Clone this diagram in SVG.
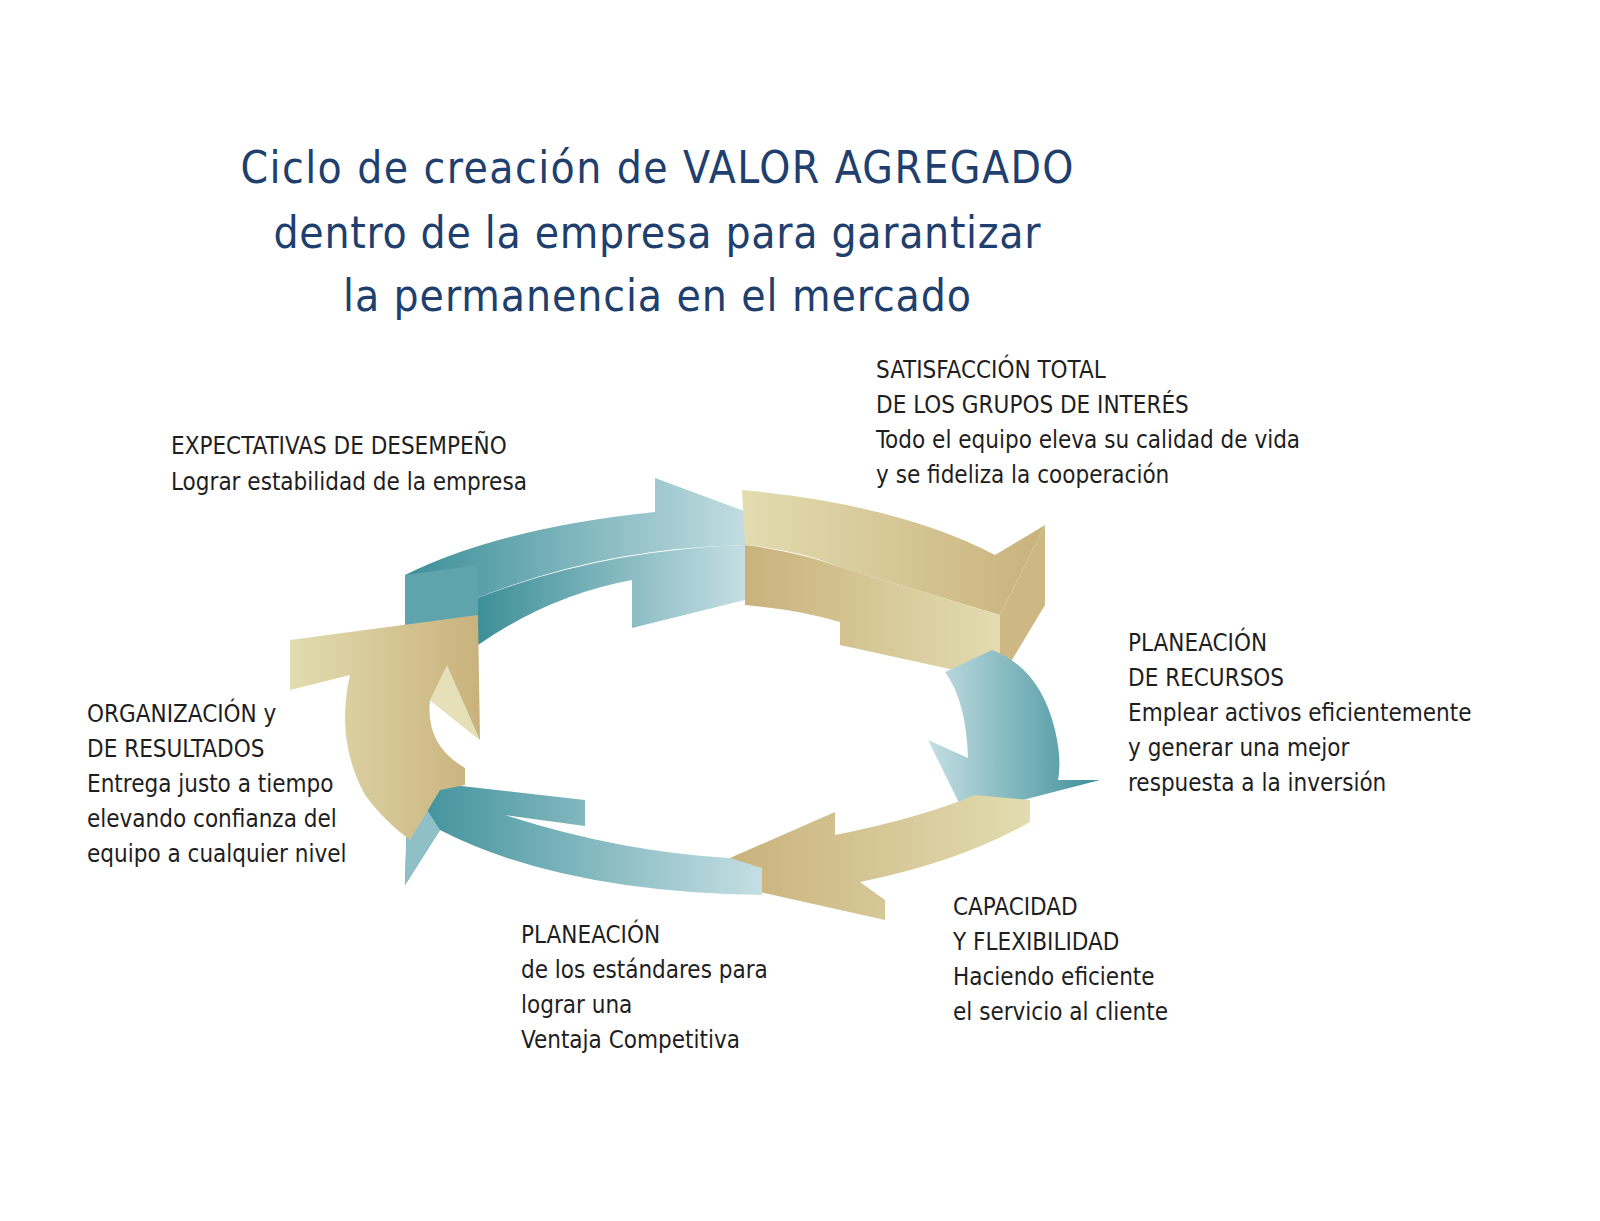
<svg xmlns="http://www.w3.org/2000/svg" width="1600" height="1221" viewBox="0 0 1600 1221">
<defs>
<style>
.t{font-family:"DejaVu Sans Condensed","Liberation Sans",sans-serif;font-size:44px;fill:#1f3f6e}
.l{font-family:"DejaVu Sans Condensed","Liberation Sans",sans-serif;font-size:24px;fill:#1e1e1e}
</style>
<linearGradient id="teal" x1="0" y1="0" x2="1" y2="0"><stop offset="0" stop-color="#3d8f99"/><stop offset="1" stop-color="#c5dfe3"/></linearGradient>
<linearGradient id="tealR" x1="1" y1="0" x2="0" y2="0"><stop offset="0" stop-color="#3d8f99"/><stop offset="1" stop-color="#c5dfe3"/></linearGradient>
<linearGradient id="tealV" x1="0" y1="1" x2="0" y2="0"><stop offset="0" stop-color="#3d8f99"/><stop offset="1" stop-color="#b5d5da"/></linearGradient>
<linearGradient id="tan" x1="0" y1="0" x2="1" y2="0"><stop offset="0" stop-color="#e2dcb0"/><stop offset="1" stop-color="#c9b27c"/></linearGradient>
<linearGradient id="tanR" x1="1" y1="0" x2="0" y2="0"><stop offset="0" stop-color="#e2dcb0"/><stop offset="1" stop-color="#c9b27c"/></linearGradient>
</defs>
<rect width="1600" height="1221" fill="#fff"/>
<g id="title">
<text class="t" x="657" y="183" text-anchor="middle" textLength="833">Ciclo de creación de VALOR AGREGADO</text>
<text class="t" x="657" y="248" text-anchor="middle" textLength="767">dentro de la empresa para garantizar</text>
<text class="t" x="657" y="311" text-anchor="middle" textLength="628">la permanencia en el mercado</text>
</g>
<g id="arrows">
<!-- top teal -->
<path d="M405,575 Q500,528 655,512 L655,478 L755,515 L745,545 Q600,548 478,598 Z" fill="url(#teal)"/>
<path d="M478,598 Q600,550 745,545 L745,600 L632,628 L632,580 Q550,595 478,645 Z" fill="url(#teal)"/>
<path d="M405,575 L478,565 L478,645 L405,625 Z" fill="#5fa4ad"/>
<!-- top right tan -->
<path d="M742,490 Q900,505 995,555 L1045,525 L1000,615 L840,567 Q800,550 745,545 Z" fill="url(#tan)"/>
<path d="M745,545 Q800,552 840,567 L1000,615 L1000,680 L840,645 L840,622 Q800,610 745,605 Z" fill="url(#tanR)"/>
<path d="M1000,615 L1045,525 L1045,605 L1000,680 Z" fill="#cdb883"/>
<!-- right teal -->
<path d="M992,650 Q1040,668 1055,730 Q1062,760 1058,780 L1100,780 L965,815 L928,740 L968,758 Q966,700 945,672 Z" fill="url(#tealR)"/>
<!-- bottom tan -->
<path d="M1030,800 L1030,822 Q960,862 860,882 L885,900 L885,920 L760,892 L730,858 L835,812 L835,835 Q920,818 975,795 Z" fill="url(#tanR)"/>
<!-- bottom teal -->
<path d="M762,868 L762,895 Q560,892 440,830 L405,885 L408,780 L585,800 L585,826 L505,815 Q620,852 730,858 Z" fill="url(#teal)"/>
<path d="M408,780 L440,830 L405,885 Z" fill="#8fc0c7"/>
<!-- left tan -->
<path d="M465,785 L465,768 Q425,745 430,700 L480,740 L478,615 L290,640 L290,690 L350,675 Q335,740 365,795 Q385,822 410,840 L440,790 Z" fill="url(#tan)"/>
<path d="M430,700 L447,665 L480,740 Z" fill="#e6e0b8"/>
</g>
<g id="labels">
<text class="l"><tspan x="876" y="378">SATISFACCIÓN TOTAL</tspan><tspan x="876" y="413">DE LOS GRUPOS DE INTERÉS</tspan><tspan x="876" y="448">Todo el equipo eleva su calidad de vida</tspan><tspan x="876" y="483">y se fideliza la cooperación</tspan></text>
<text class="l"><tspan x="171" y="454">EXPECTATIVAS DE DESEMPEÑO</tspan><tspan x="171" y="490">Lograr estabilidad de la empresa</tspan></text>
<text class="l"><tspan x="1128" y="651">PLANEACIÓN</tspan><tspan x="1128" y="686">DE RECURSOS</tspan><tspan x="1128" y="721">Emplear activos eficientemente</tspan><tspan x="1128" y="756">y generar una mejor</tspan><tspan x="1128" y="791">respuesta a la inversión</tspan></text>
<text class="l"><tspan x="87" y="722">ORGANIZACIÓN y</tspan><tspan x="87" y="757">DE RESULTADOS</tspan><tspan x="87" y="792">Entrega  justo a tiempo</tspan><tspan x="87" y="827">elevando confianza del</tspan><tspan x="87" y="862">equipo a cualquier nivel</tspan></text>
<text class="l"><tspan x="953" y="915">CAPACIDAD</tspan><tspan x="953" y="950">Y FLEXIBILIDAD</tspan><tspan x="953" y="985">Haciendo eficiente</tspan><tspan x="953" y="1020">el  servicio al cliente</tspan></text>
<text class="l"><tspan x="521" y="943">PLANEACIÓN</tspan><tspan x="521" y="978">de los estándares para</tspan><tspan x="521" y="1013">lograr una</tspan><tspan x="521" y="1048">Ventaja Competitiva</tspan></text>
</g>
</svg>
